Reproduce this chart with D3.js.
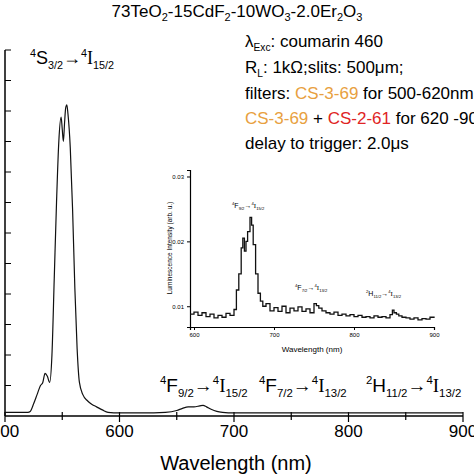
<!DOCTYPE html>
<html><head><meta charset="utf-8">
<script src="https://cdn.jsdelivr.net/npm/d3@7"></script>
<style>body{margin:0;background:#fff}text{font-family:Arial,"Liberation Sans",sans-serif}</style>
</head><body><svg id="c" width="474" height="474"></svg>
<script>
// main spectrum (arb. units)
const mainWl = [500,510,520,522,525,528,531,533,535,537,539,541,543,545,547,549,550,551,552,553,554,555,557,559,561,563,565,568,572,576,580,585,590,600,620,640,650,655,660,665,670,673,676,680,685,690,700,750,800,850,900];
const mainVal = [0.12,0.12,0.12,0.15,0.4,0.7,1.0,1.1,1.4,1.3,1.1,2.0,4.5,7.0,9.0,9.8,9.4,9.0,9.6,10.1,10.2,9.9,8.8,6.8,4.2,2.2,1.1,0.7,0.5,0.38,0.3,0.2,0.12,0.1,0.1,0.12,0.18,0.25,0.3,0.3,0.33,0.35,0.3,0.22,0.15,0.12,0.1,0.1,0.1,0.1,0.1];
const mainTicks = [500,600,700,800,900];

// inset spectrum
const insetWl = [595,600,605,610,615,620,625,630,635,640,645,650,653,656,659,661,663,665,667,670,672,674,677,680,683,686,690,695,700,705,710,715,720,725,730,735,740,745,750,753,756,760,765,770,775,780,785,790,795,800,805,810,815,820,825,830,835,840,845,848,850,853,856,860,865,870,875,880,885,890,895,900];
const insetVal = [0.0088,0.0091,0.0086,0.0090,0.0084,0.0088,0.0082,0.0086,0.0083,0.0089,0.0086,0.0095,0.0125,0.0150,0.0190,0.0205,0.0185,0.0200,0.0215,0.0237,0.0225,0.0195,0.0150,0.0120,0.0108,0.0100,0.0104,0.0093,0.0098,0.0092,0.0100,0.0090,0.0097,0.0093,0.0099,0.0092,0.0096,0.0090,0.0104,0.0101,0.0097,0.0093,0.0090,0.0088,0.0091,0.0086,0.0088,0.0085,0.0087,0.0084,0.0086,0.0083,0.0084,0.0082,0.0085,0.0083,0.0084,0.0082,0.0087,0.0094,0.0090,0.0088,0.0085,0.0083,0.0082,0.0080,0.0082,0.0079,0.0081,0.0080,0.0083,0.0082];
const insetXTicks = [600,700,800,900];
const insetYTicks = [0.01,0.02,0.03];

const svg = d3.select('#c');
const x = d3.scaleLinear().domain([500, 900]).range([5, 463]);
const y = d3.scaleLinear().domain([0, 12]).range([416, 50]);

// main axes
svg.append('line').attr('x1', x(500)).attr('x2', x(500)).attr('y1', y(12)).attr('y2', y(0)).attr('stroke', '#000').attr('stroke-width', 1.5);
svg.append('line').attr('x1', x(500)).attr('x2', x(900)).attr('y1', y(0)).attr('y2', y(0)).attr('stroke', '#000').attr('stroke-width', 1.5);
svg.selectAll('.yt').data(d3.range(1, 13)).join('line')
  .attr('x1', x(500)).attr('x2', x(500) + 6).attr('y1', d => y(d)).attr('y2', d => y(d)).attr('stroke', '#000');
svg.selectAll('.xt').data(d3.range(500, 901, 50)).join('line')
  .attr('x1', d => x(d)).attr('x2', d => x(d)).attr('y1', y(0) - 4).attr('y2', d => y(0) + (d % 100 ? 4 : 6))
  .attr('stroke', '#000').attr('stroke-width', 1.2);
svg.selectAll('.xl').data(mainTicks).join('text')
  .attr('x', d => x(d)).attr('y', 437).attr('text-anchor', 'middle').attr('font-size', 17).text(d => d);
svg.append('text').attr('x', 236).attr('y', 470).attr('text-anchor', 'middle').attr('font-size', 20).text('Wavelength (nm)');

const mainLine = d3.line().x((d, i) => x(mainWl[i])).y(d => y(d)).curve(d3.curveMonotoneX);
svg.append('path').datum(mainVal).attr('d', mainLine).attr('fill', 'none').attr('stroke', '#111').attr('stroke-width', 1.2);

// title and notes
const title = svg.append('text').attr('x', 237).attr('y', 17).attr('text-anchor', 'middle').attr('font-size', 17);
[['73TeO', 0], ['2', 1], ['-15CdF', 0], ['2', 1], ['-10WO', 0], ['3', 1], ['-2.0Er', 0], ['2', 1], ['O', 0], ['3', 1]].forEach(([t, s]) => {
  title.append('tspan').attr('font-size', s ? 11 : 17).attr('dy', s ? 4 : -4).text(t);
});
title.select('tspan').attr('dy', 0);

function rich(parts, xx, yy, size) {
  const t = svg.append('text').attr('x', xx).attr('y', yy).attr('font-size', size);
  let prev = 0;
  parts.forEach(p => {
    const o = p.o || 0;
    t.append('tspan').attr('dy', o - prev).attr('font-size', o ? size * 0.6 : size)
      .attr('fill', p.c || '#000').attr('font-family', p.f || null).text(p.t);
    prev = o;
  });
  return t;
}
rich([{t: 'λ'}, {t: 'Exc', o: 4}, {t: ': coumarin 460'}], 245, 47, 17);
rich([{t: 'R'}, {t: 'L', o: 4}, {t: ': 1kΩ;slits: 500μm;'}], 245, 73, 17);
rich([{t: 'filters: '}, {t: 'CS-3-69', c: '#e8a040'}, {t: ' for 500-620nm'}], 245, 99, 17);
rich([{t: 'CS-3-69', c: '#e8a040'}, {t: ' + '}, {t: 'CS-2-61', c: '#e02424'}, {t: ' for 620 -900nm'}], 245, 124, 17);
rich([{t: 'delay to trigger: 2.0μs'}], 245, 149, 17);

function trans(a, aj, b, bj, xx, yy, size) {
  return rich([{t: a[0], o: -size * 0.4}, {t: a.slice(1)}, {t: aj, o: size * 0.25}, {t: '→'},
    {t: b[0], o: -size * 0.4}, {t: 'I', f: 'Liberation Serif,serif'}, {t: bj, o: size * 0.25}], xx, yy, size);
}
trans('4S', '3/2', '4', '15/2', 30, 64, 18);
trans('4F', '9/2', '4', '15/2', 160, 392, 19);
trans('4F', '7/2', '4', '13/2', 259, 392, 19);
trans('2H', '11/2', '4', '13/2', 366, 392, 19);

// inset
const ix = d3.scaleLinear().domain([595, 900]).range([190, 434]);
const iy = d3.scaleLinear().domain([0.0068, 0.031]).range([327, 170]);
const ig = svg.append('g');
ig.append('g').attr('transform', 'translate(0,327)')
  .call(d3.axisBottom(ix).tickValues(insetXTicks).tickSize(3).tickFormat(d3.format('d')))
  .call(g => g.selectAll('text').attr('font-size', 6));
ig.append('g').attr('transform', 'translate(190,0)')
  .call(d3.axisLeft(iy).tickValues(insetYTicks).tickSize(3).tickFormat(d3.format('.2f')))
  .call(g => g.selectAll('text').attr('font-size', 6));
ig.selectAll('.domain').attr('stroke-width', 1.2);
ig.append('text').attr('x', 312).attr('y', 352).attr('text-anchor', 'middle').attr('font-size', 8).text('Wavelength (nm)');
ig.append('text').attr('transform', 'translate(172,248) rotate(-90)').attr('text-anchor', 'middle').attr('font-size', 6.5).text('Luminescence Intensity (arb. u.)');
const insetLine = d3.line().x((d, i) => ix(insetWl[i])).y(d => iy(d)).curve(d3.curveStepAfter);
ig.append('path').datum(insetVal).attr('d', insetLine).attr('fill', 'none').attr('stroke', '#111').attr('stroke-width', 1.3);
trans('4F', '9/2', '4', '15/2', 232, 208, 7);
trans('4F', '7/2', '4', '13/2', 295, 290, 7);
trans('2H', '11/2', '4', '13/2', 366, 296, 7);
</script></body></html>
